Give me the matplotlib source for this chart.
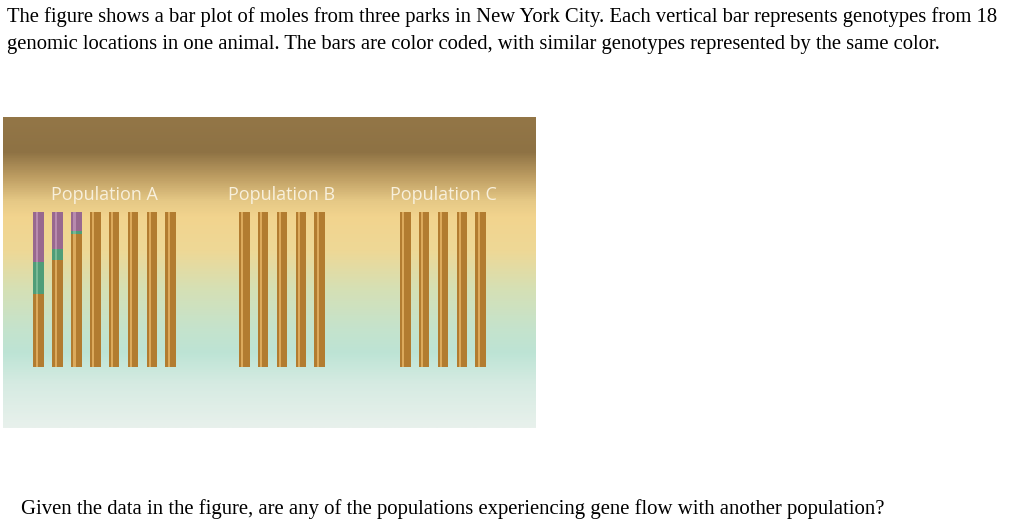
import numpy as np
import matplotlib
matplotlib.use("Agg")
import matplotlib.pyplot as plt
from matplotlib.colors import LinearSegmentedColormap

# genotype make-up of each animal, in genomic locations (out of 18)
pop_names = ["Population A", "Population B", "Population C"]
pop_sizes = [8, 5, 5]
purple_A = [5.8, 4.3, 2.2, 0, 0, 0, 0, 0]
green_A = [3.7, 1.3, 0.4, 0, 0, 0, 0, 0]
orange_A = [8.5, 12.4, 15.4, 18, 18, 18, 18, 18]
orange_B = [18, 18, 18, 18, 18]
orange_C = [18, 18, 18, 18, 18]

top_lines = ["The figure shows a bar plot of moles from three parks in New York City. "
             "Each vertical bar represents genotypes from 18",
             "genomic locations in one animal. The bars are color coded, with similar "
             "genotypes represented by the same color."]
question = ("Given the data in the figure, are any of the populations experiencing "
            "gene flow with another population?")

orange = "#b27c30"
orange_hi = "#dcaa5c"
green = "#4f9d78"
green_hi = "#78b995"
purple = "#98688f"
purple_hi = "#b88aae"

fig = plt.figure(figsize=(10.24, 5.28), dpi=100)
for line, ypix in zip(top_lines, [17, 44]):
    fig.text(7 / 1024, 1 - ypix / 528, line, family="Liberation Serif", fontsize=14.85,
             va="center", ha="left")
fig.text(21 / 1024, 1 - 509 / 528, question, family="Liberation Serif", fontsize=14.95,
         va="center", ha="left")

ax = fig.add_axes([3 / 1024, 1 - 428 / 528, 533 / 1024, 311 / 528])
ax.set_xlim(0, 28.26)
ax.set_ylim(-7.08, 29.03)
ax.axis("off")

# background gradient
stops = [(0.0, "#937647"), (0.11, "#8e7244"), (0.19, "#bd9d62"), (0.27, "#e6c986"),
         (0.32, "#f2d48e"), (0.43, "#eed896"), (0.55, "#d6e0b4"), (0.68, "#c5e3cc"),
         (0.76, "#bde4d5"), (0.86, "#d6ebe2"), (1.0, "#e8f1ec")]
cmap = LinearSegmentedColormap.from_list("bg", stops)
grad = np.linspace(0, 1, 400).reshape(-1, 1)
ax.imshow(grad, cmap=cmap, aspect="auto", extent=[0, 1, 0, 1],
          transform=ax.transAxes, zorder=0)

starts = [1.89, 12.79, 21.33]
w = 0.56


def draw_stack(x, segments):
    bottom = np.zeros(len(x))
    for vals, col, hi in segments:
        vals = np.asarray(vals, dtype=float)
        ax.bar(x, vals, bottom=bottom, width=w, color=col, linewidth=0, zorder=2)
        # lighter highlight stripe on each bar
        ax.bar(x - w * 0.18, vals, bottom=bottom, width=w * 0.2, color=hi,
               linewidth=0, zorder=3)
        bottom += vals


xa = starts[0] + np.arange(pop_sizes[0])
xb = starts[1] + np.arange(pop_sizes[1])
xc = starts[2] + np.arange(pop_sizes[2])
draw_stack(xa, [(orange_A, orange, orange_hi), (green_A, green, green_hi),
                (purple_A, purple, purple_hi)])
draw_stack(xb, [(orange_B, orange, orange_hi)])
draw_stack(xc, [(orange_C, orange, orange_hi)])

for name, xs in zip(pop_names, [xa, xb, xc]):
    ax.text(xs.mean(), 20, name, ha="center", va="center", color="#f8f0dc",
            family="Open Sans", fontsize=13, zorder=4)

fig.savefig("out.png", dpi=100)
